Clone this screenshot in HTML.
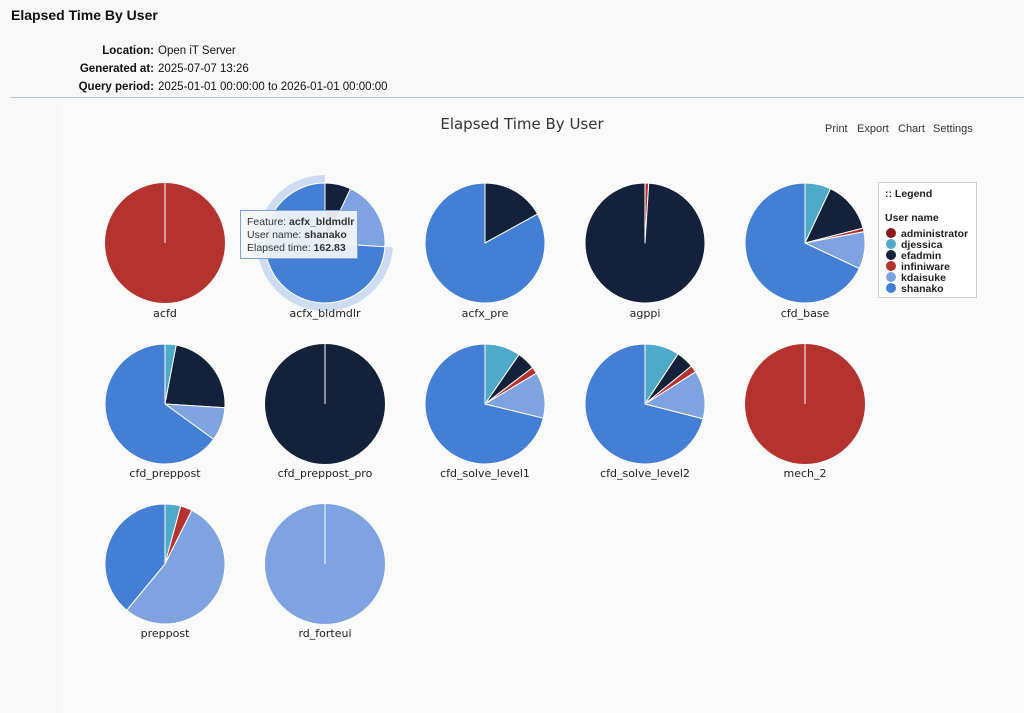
<!DOCTYPE html>
<html><head><meta charset="utf-8"><style>
body{margin:0;width:1024px;height:713px;background:#f8f8f8;font-family:"Liberation Sans","DejaVu Sans",sans-serif;overflow:hidden;position:relative}
.h1{position:absolute;left:11px;top:7px;font-weight:bold;font-size:14px;color:#111}
.meta{position:absolute;top:42px;font-size:11.5px;color:#111;line-height:18px}
.meta .k{position:absolute;right:0;font-weight:bold;white-space:nowrap}
.sep{position:absolute;left:10px;right:0;top:97px;border-top:1px solid #b8c4d8}
.panel{position:absolute;left:60px;top:105px;width:964px;height:608px;background:#fafafa}
svg{position:absolute;left:0;top:0}
</style></head><body>
<div class="h1">Elapsed Time By User</div>
<div class="meta" style="left:0;width:154px">
<div class="k" style="top:0">Location:</div><div class="k" style="top:18px">Generated at:</div><div class="k" style="top:36px">Query period:</div></div>
<div class="meta" style="left:158px"><div>Open iT Server</div><div>2025-07-07 13:26</div><div>2025-01-01 00:00:00 to 2026-01-01 00:00:00</div></div>
<div class="sep"></div>
<div class="panel"></div>
<svg id="s" width="1024" height="713" font-family="Liberation Sans, DejaVu Sans, sans-serif">
<text x="522" y="129" font-size="15" fill="#333" text-anchor="middle" font-family="DejaVu Sans, sans-serif">Elapsed Time By User</text>
<g font-size="11" fill="#333"><text x="825" y="132">Print</text><text x="857" y="132">Export</text><text x="898" y="132">Chart</text><text x="933" y="132">Settings</text></g>
<g id="pies"></g>
<g font-size="11" fill="#222" text-anchor="middle" font-family="DejaVu Sans, sans-serif">
<text x="165" y="317">acfd</text><text x="325" y="317">acfx_bldmdlr</text><text x="485" y="317">acfx_pre</text><text x="645" y="317">agppi</text><text x="805" y="317">cfd_base</text>
<text x="165" y="477">cfd_preppost</text><text x="325" y="477">cfd_preppost_pro</text><text x="485" y="477">cfd_solve_level1</text><text x="645" y="477">cfd_solve_level2</text><text x="805" y="477">mech_2</text>
<text x="165" y="637">preppost</text><text x="325" y="637">rd_forteui</text></g>
<rect x="878.5" y="182.5" width="98" height="115" fill="#fff" stroke="#ccc"/>
<g font-size="10.5" fill="#222" font-weight="bold">
<text x="885" y="197">:: Legend</text><text x="885" y="221">User name</text>
<circle cx="891" cy="233" r="5" fill="#8b1a1a"/><text x="901" y="237">administrator</text>
<circle cx="891" cy="244" r="5" fill="#4fa9c9"/><text x="901" y="248">djessica</text>
<circle cx="891" cy="255" r="5" fill="#13213a"/><text x="901" y="259">efadmin</text>
<circle cx="891" cy="266" r="5" fill="#b5332e"/><text x="901" y="270">infiniware</text>
<circle cx="891" cy="277" r="5" fill="#7fa3e0"/><text x="901" y="281">kdaisuke</text>
<circle cx="891" cy="288" r="5" fill="#4380d5"/><text x="901" y="292">shanako</text></g>
<g id="tip"><rect x="240.5" y="210.5" width="117" height="48" fill="#f4f6fa" fill-opacity="0.93" stroke="#7fa3e0"/>
<g font-size="10.5" fill="#333"><text x="247" y="225">Feature: <tspan font-weight="bold">acfx_bldmdlr</tspan></text><text x="247" y="238">User name: <tspan font-weight="bold">shanako</tspan></text><text x="247" y="251">Elapsed time: <tspan font-weight="bold">162.83</tspan></text></g></g>
</svg>
<script>
var C={a:"#8b1a1a",d:"#4fa9c9",e:"#13213a",i:"#b5332e",k:"#7fa3e0",s:"#4380d5"};
var P=[[165,243,[["i",1]]],[325,243,[["e",.07],["k",.19],["s",.74]],1],[485,243,[["e",.17],["s",.83]]],
[645,243,[["i",.01],["e",.99]]],[805,243,[["d",.07],["e",.14],["i",.01],["k",.10],["s",.68]]],
[165,404,[["d",.03],["e",.23],["k",.09],["s",.65]]],[325,404,[["e",1]]],
[485,404,[["d",.096],["e",.05],["i",.018],["k",.124],["s",.712]]],[645,404,[["d",.093],["e",.048],["i",.019],["k",.13],["s",.71]]],
[805,404,[["i",1]]],[165,564,[["d",.042],["i",.032],["k",.536],["s",.39]]],[325,564,[["k",1]]]];
var h="";function pt(cx,cy,r,f){var a=f*2*Math.PI;return [cx+r*Math.sin(a),cy-r*Math.cos(a)];}
P.forEach(function(p){var cx=p[0],cy=p[1],r=60,t=0;
 if(p[3]){var a0=.26,a1=1;var R=68;var s=pt(cx,cy,R,a0),e=pt(cx,cy,R,a1-0.0001);h+='<path d="M'+cx+','+cy+'L'+s+'A'+R+','+R+' 0 1 1 '+e+'Z" fill="#cddcf3"/>';}
 p[2].forEach(function(q){var s=pt(cx,cy,r,t),e=pt(cx,cy,r,t+q[1]);
  if(q[1]>=1){h+='<circle cx="'+cx+'" cy="'+cy+'" r="'+r+'" fill="'+C[q[0]]+'"/><line x1="'+cx+'" y1="'+cy+'" x2="'+cx+'" y2="'+(cy-r)+'" stroke="#fff" stroke-width="1"/>';}
  else h+='<path d="M'+cx+','+cy+'L'+s+'A'+r+','+r+' 0 '+(q[1]>.5?1:0)+' 1 '+e+'Z" fill="'+C[q[0]]+'" stroke="#fff" stroke-width="1" stroke-linejoin="round"/>';
  t+=q[1];});});
document.getElementById("pies").innerHTML=h;
</script>
</body></html>
